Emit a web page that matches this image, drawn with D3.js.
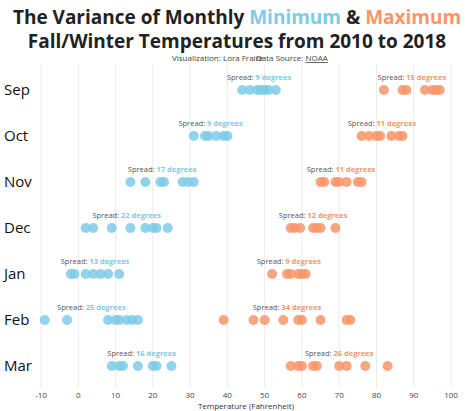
<!DOCTYPE html><html><head><meta charset="utf-8"><script src="https://cdn.jsdelivr.net/npm/d3@7"></script>
<style>body{margin:0;background:#fff}text{font-family:"Open Sans","Noto Sans",sans-serif}</style></head><body><svg id="c" width="474" height="411"></svg><script>
const months=["Sep","Oct","Nov","Dec","Jan","Feb","Mar"];
const minTemps=[[44,46,48,49,50,51,53],[31,34,35,37,39,40],[14,18,22,23,28,29.5,31],[2,4,9,14,18,20,21,24],[-2,-1,2,4,6,8,11],[-9,-3,8,10,11,13,14.5,16],[9,11,12,16,20,21,25]];
const maxTemps=[[82,87,88,93,95,96,97],[76,78,80,81,84,86,87],[65,66,69,70,72,75,76],[57,58,59.5,63,64,65,69],[52,56,57,59,60,61],[39,47,50,55,59,60,65,72,73],[57,59,60,63,64,70,72,77,83]];
const xTicks=[-10,0,10,20,30,40,50,60,70,80,90,100];
const blue="#7ccbe8",orange="#f8956a";
const svg=d3.select("#c");
const x=d3.scaleLinear().domain([-10,100]).range([41,451]);
const y=d3.scalePoint().domain(months).range([90,366]);
svg.append("g").selectAll("line").data(xTicks).join("line").attr("x1",d=>x(d)).attr("x2",d=>x(d)).attr("y1",64).attr("y2",388).attr("stroke","#ebebeb");
svg.append("g").selectAll("text").data(xTicks).join("text").attr("x",d=>x(d)).attr("y",398).attr("text-anchor","middle").attr("font-size",8).attr("fill","#444").text(d=>d);
svg.append("text").attr("x",246).attr("y",409).attr("text-anchor","middle").attr("font-size",8).attr("fill","#333").text("Temperature (Fahrenheit)");
svg.append("g").selectAll("text").data(months).join("text").attr("x",4).attr("y",d=>y(d)+5).attr("font-size",15).attr("font-family","DejaVu Sans").attr("fill","#111").text(d=>d);
function series(data,col){
 months.forEach((m,i)=>{
  const v=data[i];
  svg.append("g").selectAll("circle").data(v).join("circle").attr("cx",d=>x(d)).attr("cy",y(m)).attr("r",5).attr("fill",col).attr("opacity",0.85);
  const mid=x((d3.min(v)+d3.max(v))/2);
  const t=svg.append("text").attr("x",mid).attr("y",y(m)-10).attr("text-anchor","middle").attr("font-size",7.5);
  t.append("tspan").attr("fill","#555").text("Spread: ");
  t.append("tspan").attr("fill",col).attr("font-weight","bold").text(Math.round(d3.max(v)-d3.min(v))+" degrees");
 });
}
series(minTemps,blue);series(maxTemps,orange);
const t1=svg.append("text").attr("x",237).attr("y",24).attr("text-anchor","middle").attr("font-size",19).attr("font-weight","bold").attr("fill","#222");
t1.append("tspan").text("The Variance of Monthly ");
t1.append("tspan").attr("fill",blue).text("Minimum");
t1.append("tspan").text(" & ");
t1.append("tspan").attr("fill",orange).text("Maximum");
svg.append("text").attr("x",237).attr("y",48).attr("text-anchor","middle").attr("font-size",19).attr("font-weight","bold").attr("fill","#222").text("Fall/Winter Temperatures from 2010 to 2018");
svg.append("text").attr("x",172).attr("y",61).attr("font-size",8).attr("fill","#444").text("Visualization: Lora Fraire");
const s=svg.append("text").attr("x",256).attr("y",61).attr("font-size",8).attr("fill","#444");
s.append("tspan").text("Data Source: ");
s.append("tspan").attr("text-decoration","underline").text("NOAA");
</script></body></html>
